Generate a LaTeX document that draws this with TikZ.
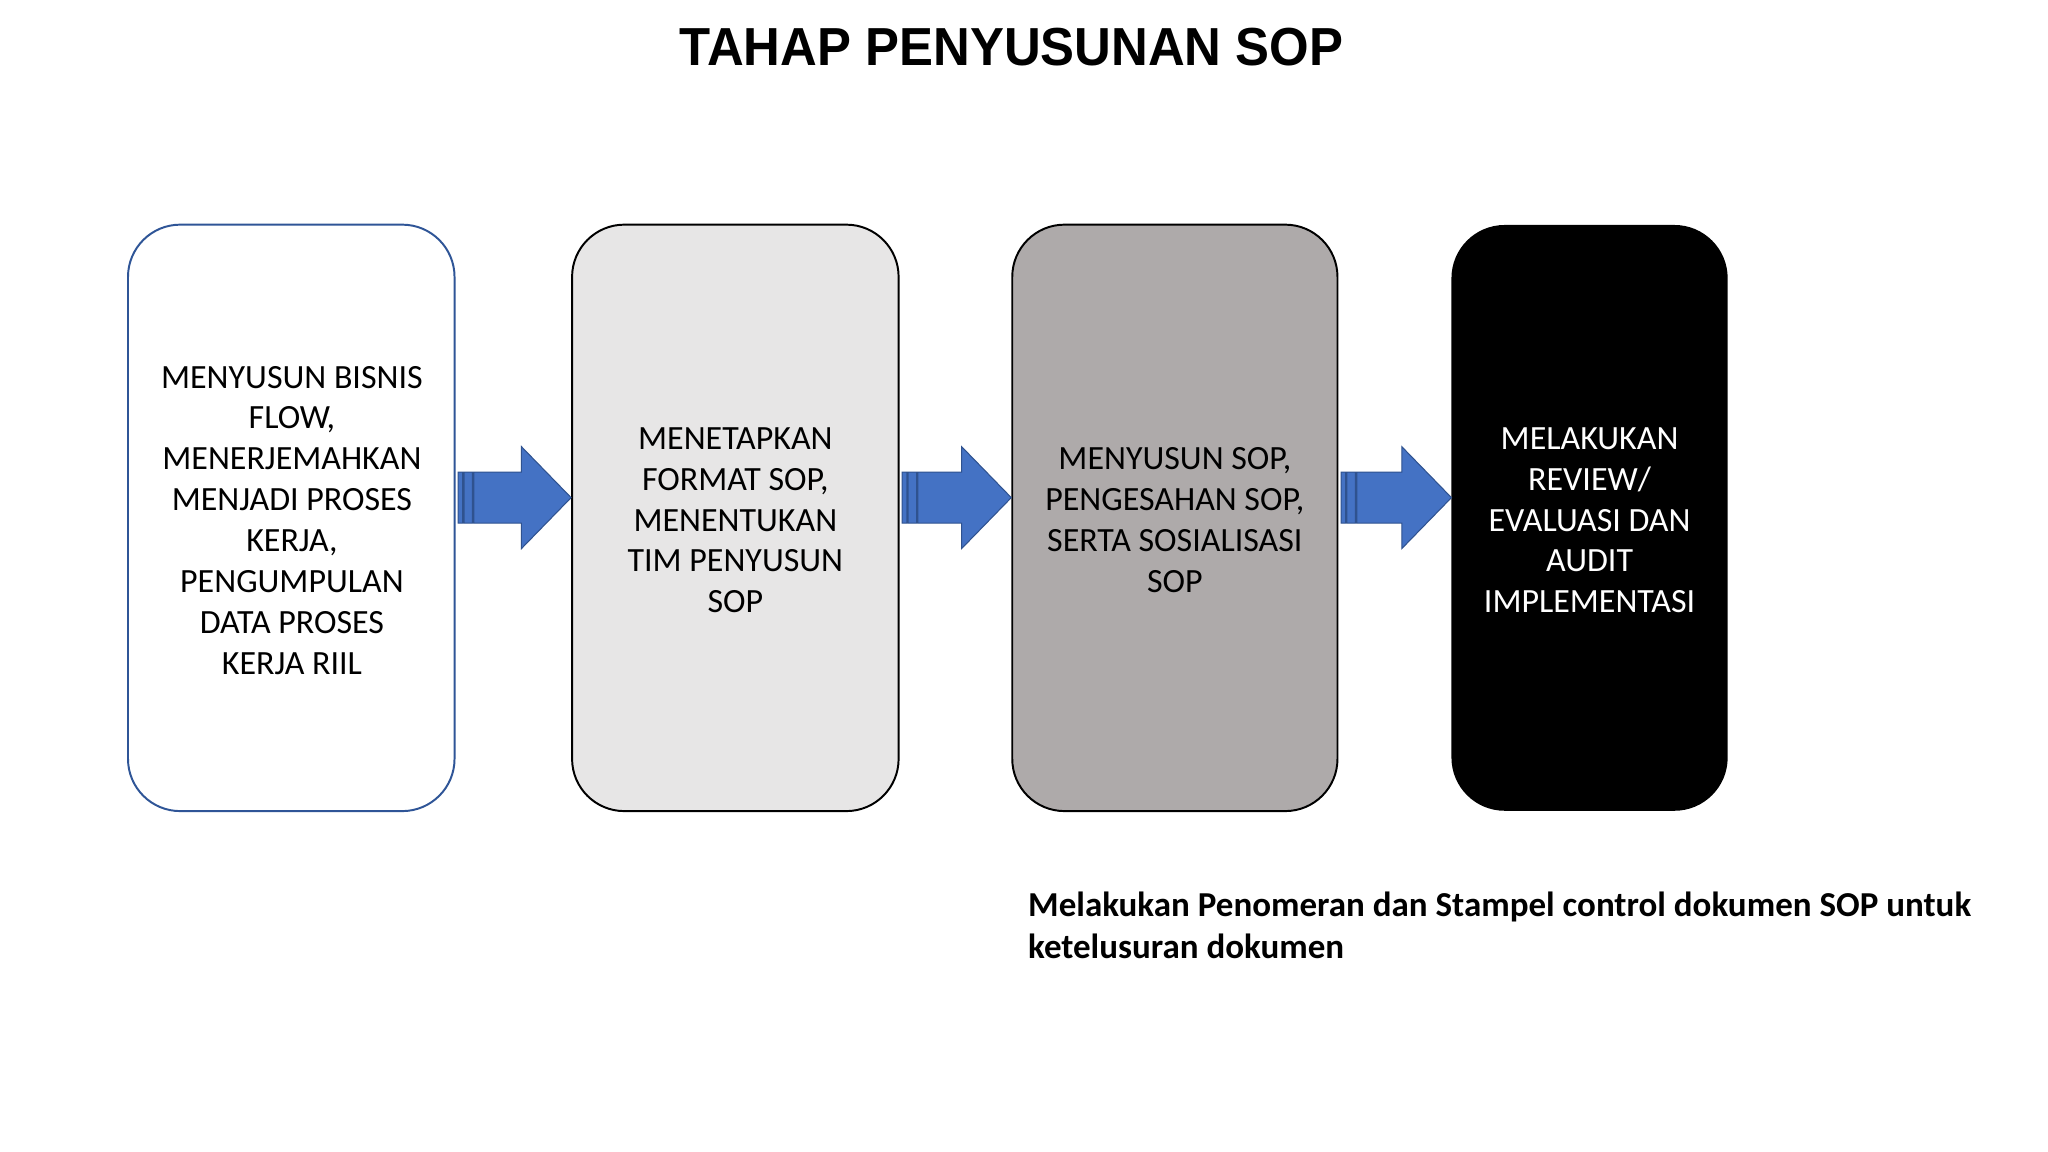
\documentclass[tikz,border=0pt]{standalone}
\usepackage{fontspec}
\usetikzlibrary{calc}
\newfontfamily\carlito{Carlito}
\newfontfamily\titlefont[FakeStretch=0.95]{Liberation Sans}
\definecolor{boxblue}{HTML}{2F5597}
\definecolor{lightgray}{HTML}{E7E6E6}
\definecolor{midgray}{HTML}{AEAAAA}
\definecolor{arrowblue}{HTML}{4472C4}
\definecolor{arrowedge}{HTML}{2F528F}
\tikzset{
  stagebox/.style={rounded corners=40pt, minimum height=449pt, inner sep=0pt,
    line width=1.5pt},
  stagetext/.style={inner sep=0pt, align=center, font=\carlito\fontsize{26}{31.3}\selectfont},
  arrowpart/.style={fill=arrowblue, draw=arrowedge, line width=0.8pt},
}
\newcommand\striparrow[2]{%
  \path let \p1=($(#1.east)+(2pt,0)$), \p2=(#2.west) in
    [arrowpart] (\x1,\y1+15.5pt-19.5pt) rectangle (\x1+3.5pt,\y1+15.5pt+19.5pt)
    [arrowpart] (\x1+4.5pt,\y1+15.5pt-19.5pt) rectangle (\x1+11pt,\y1+15.5pt+19.5pt)
    [arrowpart] (\x1+12pt,\y1+15.5pt-19.5pt) -- (\x2-38pt,\y1+15.5pt-19.5pt)
      -- (\x2-38pt,\y1+15.5pt-39pt) -- (\x2,\y1+15.5pt) -- (\x2-38pt,\y1+15.5pt+39pt)
      -- (\x2-38pt,\y1+15.5pt+19.5pt) -- (\x1+12pt,\y1+15.5pt+19.5pt) -- cycle;%
}
\begin{document}
\begin{tikzpicture}[x=1pt,y=-1pt]
\useasboundingbox[fill=white] (0,0) rectangle (1568,882);
\node[font=\titlefont\bfseries\fontsize{41}{41}\selectfont, anchor=base] (title) at (774.5,49.8) {TAHAP PENYUSUNAN SOP};
\node[stagebox, draw=boxblue, fill=white, minimum width=250pt] (b1) at (223,396.5) {};
\node[stagebox, draw=black, fill=lightgray, minimum width=250pt] (b2) at (563,396.5) {};
\node[stagebox, draw=black, fill=midgray, minimum width=249pt] (b3) at (899.5,396.5) {};
\node[stagebox, draw=black, fill=black, minimum width=210pt, minimum height=447pt] (b4) at (1217,396.5) {};
\node[stagetext] (t1) at ($(b1.center)+(0.5,1.8)$)
  {MENYUSUN BISNIS\\FLOW,\\MENERJEMAHKAN\\MENJADI PROSES\\KERJA,\\PENGUMPULAN\\DATA PROSES\\KERJA RIIL};
\node[stagetext] (t2) at ($(b2.center)+(0,1.8)$)
  {MENETAPKAN\\FORMAT SOP,\\MENENTUKAN\\TIM PENYUSUN\\SOP};
\node[stagetext] (t3) at ($(b3.center)+(0,1.8)$)
  {MENYUSUN SOP,\\PENGESAHAN SOP,\\SERTA SOSIALISASI\\SOP};
\node[stagetext, text=white] (t4) at ($(b4.center)+(0,1.8)$)
  {MELAKUKAN\\REVIEW/\\EVALUASI DAN\\AUDIT\\IMPLEMENTASI};
\striparrow{b1}{b2}
\striparrow{b2}{b3}
\striparrow{b3}{b4}
\node[anchor=north west, align=left, inner sep=0pt, font=\carlito\bfseries\fontsize{26.8}{31.8}\selectfont] (note) at (787,683)
  {Melakukan Penomeran dan Stampel control dokumen SOP untuk\\ketelusuran dokumen};
\end{tikzpicture}
\end{document}
